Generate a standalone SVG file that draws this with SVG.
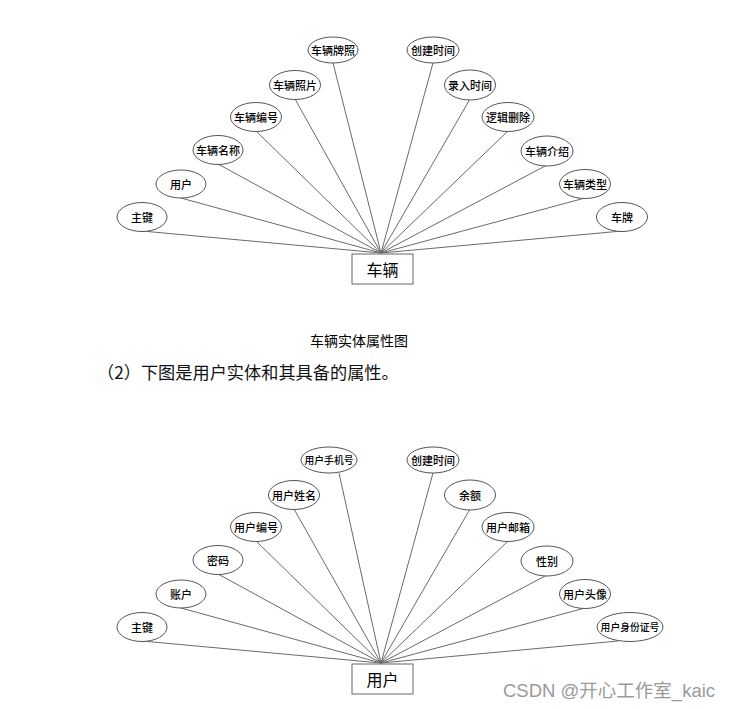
<svg xmlns="http://www.w3.org/2000/svg" width="734" height="709" viewBox="0 0 734 709">
<style>
  .bg{fill:#ffffff}
  .attr ellipse{fill:#ffffff;stroke:#555555;stroke-width:1}
  .attr text{font-family:"Noto Sans CJK SC","Liberation Sans",sans-serif;font-size:11px;font-weight:500;fill:#000000;text-anchor:middle;dominant-baseline:central}
  .attr text.sm{font-size:9.8px}
  .ent rect{fill:#ffffff;stroke:#666666;stroke-width:1}
  .ent text{font-family:"Noto Sans CJK SC","Liberation Sans",sans-serif;font-size:16px;fill:#000000;text-anchor:middle;dominant-baseline:central}
  .conn line{stroke:#6a6a6a;stroke-width:1}
  .cap{font-family:"Noto Sans CJK SC","Liberation Sans",sans-serif;font-size:14px;fill:#000000;text-anchor:middle}
  .para{font-family:"Noto Sans CJK SC","Liberation Serif",serif;font-size:17.2px;fill:#111111}
  .wm{font-family:"Liberation Sans","Noto Sans CJK SC",sans-serif;font-size:18.5px;fill:#9a9a9a}
</style>
<rect class="bg" x="0" y="0" width="734" height="709"/>

<!-- Top diagram connectors -->
<g id="connectors-top" class="conn">
  <line x1="142" y1="231" x2="381" y2="253"/>
  <line x1="181" y1="198" x2="381" y2="253"/>
  <line x1="218" y1="164" x2="381" y2="253"/>
  <line x1="256" y1="131" x2="381" y2="253"/>
  <line x1="295" y1="99" x2="381" y2="253"/>
  <line x1="333" y1="63" x2="381" y2="253"/>
  <line x1="433" y1="63" x2="381" y2="253"/>
  <line x1="470" y1="99" x2="381" y2="253"/>
  <line x1="508" y1="131" x2="381" y2="253"/>
  <line x1="547" y1="165" x2="381" y2="253"/>
  <line x1="585" y1="198" x2="381" y2="253"/>
  <line x1="622" y1="231" x2="381" y2="253"/>
</g>

<g id="entity-vehicle" class="ent">
  <rect x="352" y="254" width="61" height="30"/>
  <text x="382.5" y="269">车辆</text>
</g>

<g id="attr-v-zhujian" class="attr"><ellipse cx="142" cy="217" rx="25" ry="14.5"/><text x="142" y="217">主键</text></g>
<g id="attr-v-yonghu" class="attr"><ellipse cx="181" cy="184" rx="25" ry="14"/><text x="181" y="184">用户</text></g>
<g id="attr-v-mingcheng" class="attr"><ellipse cx="218" cy="150" rx="25" ry="14.5"/><text x="218" y="150">车辆名称</text></g>
<g id="attr-v-bianhao" class="attr"><ellipse cx="256" cy="117" rx="25.5" ry="14.5"/><text x="256" y="117">车辆编号</text></g>
<g id="attr-v-zhaopian" class="attr"><ellipse cx="295" cy="85" rx="25.5" ry="14.5"/><text x="295" y="85">车辆照片</text></g>
<g id="attr-v-paizhao" class="attr"><ellipse cx="333" cy="50" rx="25" ry="13"/><text x="333" y="50">车辆牌照</text></g>
<g id="attr-v-chuangjian" class="attr"><ellipse cx="433" cy="50" rx="26" ry="13"/><text x="433" y="50">创建时间</text></g>
<g id="attr-v-luru" class="attr"><ellipse cx="470" cy="85" rx="25.5" ry="15"/><text x="470" y="85">录入时间</text></g>
<g id="attr-v-luoji" class="attr"><ellipse cx="508" cy="117" rx="26" ry="14.5"/><text x="508" y="117">逻辑删除</text></g>
<g id="attr-v-jieshao" class="attr"><ellipse cx="547" cy="151" rx="26" ry="15"/><text x="547" y="151">车辆介绍</text></g>
<g id="attr-v-leixing" class="attr"><ellipse cx="585" cy="184" rx="25.5" ry="14.5"/><text x="585" y="184">车辆类型</text></g>
<g id="attr-v-chepai" class="attr"><ellipse cx="622" cy="217" rx="25.5" ry="14.5"/><text x="622" y="217">车牌</text></g>

<text class="cap" x="359" y="346">车辆实体属性图</text>
<text class="para" x="97" y="379">（2）下图是用户实体和其具备的属性。</text>

<!-- Bottom diagram connectors -->
<g id="connectors-bottom" class="conn">
  <line x1="142" y1="641" x2="381" y2="663"/>
  <line x1="181" y1="608" x2="381" y2="663"/>
  <line x1="218" y1="574" x2="381" y2="663"/>
  <line x1="256" y1="541" x2="381" y2="663"/>
  <line x1="294" y1="509" x2="381" y2="663"/>
  <line x1="339" y1="473" x2="381" y2="663"/>
  <line x1="433" y1="473" x2="381" y2="663"/>
  <line x1="470" y1="509" x2="381" y2="663"/>
  <line x1="508" y1="541" x2="381" y2="663"/>
  <line x1="547" y1="575" x2="381" y2="663"/>
  <line x1="585" y1="608" x2="381" y2="663"/>
  <line x1="618" y1="641" x2="381" y2="663"/>
</g>

<g id="entity-user" class="ent">
  <rect x="352" y="664" width="61" height="30"/>
  <text x="382.5" y="679">用户</text>
</g>

<g id="attr-u-zhujian" class="attr"><ellipse cx="142" cy="627" rx="25" ry="14.5"/><text x="142" y="627">主键</text></g>
<g id="attr-u-zhanghu" class="attr"><ellipse cx="181" cy="594" rx="25" ry="14"/><text x="181" y="594">账户</text></g>
<g id="attr-u-mima" class="attr"><ellipse cx="218" cy="560" rx="25" ry="14.5"/><text x="218" y="560">密码</text></g>
<g id="attr-u-bianhao" class="attr"><ellipse cx="256" cy="527" rx="25.5" ry="14.5"/><text x="256" y="527">用户编号</text></g>
<g id="attr-u-xingming" class="attr"><ellipse cx="294" cy="495" rx="25.5" ry="14.5"/><text x="294" y="495">用户姓名</text></g>
<g id="attr-u-shouji" class="attr"><ellipse cx="329" cy="460" rx="28" ry="13"/><text x="329" y="460" class="sm">用户手机号</text></g>
<g id="attr-u-chuangjian" class="attr"><ellipse cx="433" cy="460" rx="26" ry="13"/><text x="433" y="460">创建时间</text></g>
<g id="attr-u-yue" class="attr"><ellipse cx="470" cy="495" rx="25.5" ry="15"/><text x="470" y="495">余额</text></g>
<g id="attr-u-youxiang" class="attr"><ellipse cx="508" cy="527" rx="26" ry="14.5"/><text x="508" y="527">用户邮箱</text></g>
<g id="attr-u-xingbie" class="attr"><ellipse cx="547" cy="561" rx="26" ry="15"/><text x="547" y="561">性别</text></g>
<g id="attr-u-touxiang" class="attr"><ellipse cx="585" cy="594" rx="25.5" ry="14.5"/><text x="585" y="594">用户头像</text></g>
<g id="attr-u-shenfen" class="attr"><ellipse cx="630" cy="627" rx="33" ry="14.5"/><text x="630" y="627" class="sm">用户身份证号</text></g>

<text class="wm" x="503" y="697">CSDN @开心工作室_kaic</text>
</svg>
